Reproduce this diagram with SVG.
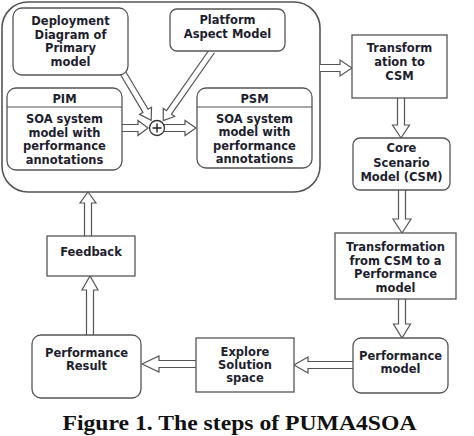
<svg xmlns="http://www.w3.org/2000/svg" width="474" height="436" viewBox="0 0 474 436">
<style>
.box{fill:#fff;stroke:#555;stroke-width:1.3}
.outer{fill:#fff;stroke:#555;stroke-width:1.6}
.hl{stroke:#555;stroke-width:1.1}
.t{font-family:"DejaVu Sans",Verdana,sans-serif;font-weight:bold;font-size:11.5px;fill:#1e1e2e;text-anchor:middle}
.arr{fill:#fff;stroke:#555;stroke-width:1.2;stroke-linejoin:miter}
.cap{font-family:"Liberation Serif","Times New Roman",serif;font-weight:bold;font-size:21.5px;fill:#111;text-anchor:middle}
</style>
<rect width="474" height="436" fill="#fff"/>
<g id="outer"><rect class="outer" x="2" y="2" width="318" height="190" rx="26"/></g>
<g id="connectors">
<path class="arr" d="M0,-3 L44,-3 L44,-7 L55,0 L44,7 L44,3 L0,3" transform="translate(123,73) rotate(59.2)"/>
<path class="arr" d="M0,-3 L75,-3 L75,-7 L85,0 L75,7 L75,3 L0,3" transform="translate(212,51) rotate(125)"/>
<path class="arr" d="M0,-3.5 L16,-3.5 L16,-7.5 L26,0 L16,7.5 L16,3.5 L0,3.5" transform="translate(122,128)"/>
<path class="arr" d="M0,-3.5 L21,-3.5 L21,-7.5 L32,0 L21,7.5 L21,3.5 L0,3.5" transform="translate(164,128)"/>
<path class="arr" d="M0,-3.5 L20,-3.5 L20,-8 L32,0 L20,8 L20,3.5 L0,3.5" transform="translate(320,68)"/>
<path class="arr" d="M0,-3.5 L27,-3.5 L27,-8.5 L40,0 L27,8.5 L27,3.5 L0,3.5" transform="translate(401,98) rotate(90)"/>
<path class="arr" d="M0,-3.5 L29,-3.5 L29,-9 L43,0 L29,9 L29,3.5 L0,3.5" transform="translate(402,190) rotate(90)"/>
<path class="arr" d="M0,-3.5 L25,-3.5 L25,-8.5 L39,0 L25,8.5 L25,3.5 L0,3.5" transform="translate(402,299) rotate(90)"/>
<path class="arr" d="M0,-3.5 L45,-3.5 L45,-8 L59,0 L45,8 L45,3.5 L0,3.5" transform="translate(353,365) rotate(180)"/>
<path class="arr" d="M0,-3.5 L37,-3.5 L37,-8 L54,0 L37,8 L37,3.5 L0,3.5" transform="translate(196,364) rotate(180)"/>
<path class="arr" d="M0,-3.5 L45,-3.5 L45,-8 L59,0 L45,8 L45,3.5 L0,3.5" transform="translate(90,335) rotate(-90)"/>
<path class="arr" d="M0,-3.5 L33,-3.5 L33,-8 L44,0 L33,8 L33,3.5 L0,3.5" transform="translate(88,236) rotate(-90)"/>
</g>
<g id="deployment"><rect class="box" x="13" y="8" width="115" height="67" rx="9"/>
<text class="t" x="70.5" y="25">Deployment</text><text class="t" x="70.5" y="38.5">Diagram of</text><text class="t" x="70.5" y="52">Primary</text><text class="t" x="70.5" y="66">model</text></g>
<g id="platform"><rect class="box" x="170" y="9" width="115" height="42" rx="7"/>
<text class="t" x="227.5" y="24">Platform</text><text class="t" x="227.5" y="38">Aspect Model</text></g>
<g id="pim"><rect class="box" x="7" y="88" width="115" height="82" rx="9"/><line class="hl" x1="7" y1="107" x2="122" y2="107"/>
<text class="t" x="64.5" y="103">PIM</text><text class="t" x="64.5" y="123">SOA system</text><text class="t" x="64.5" y="136.5">model with</text><text class="t" x="64.5" y="150">performance</text><text class="t" x="64.5" y="164">annotations</text></g>
<g id="psm"><rect class="box" x="197" y="88" width="115" height="80" rx="9"/><line class="hl" x1="197" y1="107" x2="312" y2="107"/>
<text class="t" x="254.5" y="103">PSM</text><text class="t" x="254.5" y="122.5">SOA system</text><text class="t" x="254.5" y="136">model with</text><text class="t" x="254.5" y="149.5">performance</text><text class="t" x="254.5" y="163">annotations</text></g>
<g id="plus"><circle cx="157" cy="128" r="7.5" fill="#fff" stroke="#333" stroke-width="1.3"/><path d="M152.5,128 H161.5 M157,123.5 V132.5" stroke="#222" stroke-width="1.4"/></g>
<g id="transform-csm"><rect class="box" x="352" y="35" width="95" height="63"/>
<text class="t" x="399.5" y="52">Transform</text><text class="t" x="399.5" y="66">ation to</text><text class="t" x="399.5" y="80">CSM</text></g>
<g id="csm"><rect class="box" x="353" y="138" width="97" height="52" rx="7"/>
<text class="t" x="401.5" y="152">Core</text><text class="t" x="401.5" y="167">Scenario</text><text class="t" x="401.5" y="181">Model (CSM)</text></g>
<g id="transform-perf"><rect class="box" x="335" y="233" width="121" height="66"/>
<text class="t" x="395.5" y="251">Transformation</text><text class="t" x="395.5" y="265">from CSM to a</text><text class="t" x="395.5" y="278">Performance</text><text class="t" x="395.5" y="292">model</text></g>
<g id="perf-model"><rect class="box" x="353" y="338" width="95" height="55" rx="8"/>
<text class="t" x="400.5" y="360">Performance</text><text class="t" x="400.5" y="373">model</text></g>
<g id="explore"><rect class="box" x="196" y="338" width="98" height="54"/>
<text class="t" x="245" y="356">Explore</text><text class="t" x="245" y="369">Solution</text><text class="t" x="245" y="382">space</text></g>
<g id="perf-result"><rect class="box" x="32" y="335" width="109" height="63" rx="9"/>
<text class="t" x="86.5" y="357">Performance</text><text class="t" x="86.5" y="370">Result</text></g>
<g id="feedback"><rect class="box" x="47" y="236" width="88" height="40"/>
<text class="t" x="91" y="256">Feedback</text></g>
<text class="cap" x="239.5" y="430" textLength="354" lengthAdjust="spacingAndGlyphs">Figure 1. The steps of PUMA4SOA</text>
</svg>
